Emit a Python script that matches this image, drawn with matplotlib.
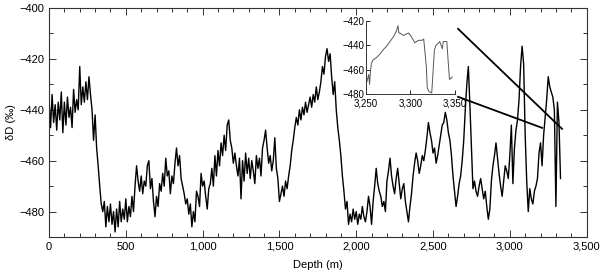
"""Profil isotopique deltaD en fonction de la profondeur, avec encart 3250-3350 m."""

import matplotlib

matplotlib.use("Agg")
import matplotlib.pyplot as plt
import numpy as np
from matplotlib.ticker import FuncFormatter, MultipleLocator

plt.rcParams["font.family"] = ["Liberation Sans", "DejaVu Sans"]

# profil principal : une valeur tous les 10 m, de 0 a 3330 m
depth_step = 10
dD_main = [
    -436, -447, -434, -445, -438, -448, -437, -444, -433, -449,
    -437, -446, -435, -443, -439, -447, -432, -441, -436, -440,
    -423, -438, -431, -437, -429, -436, -427, -434, -440, -452,
    -442, -455, -462, -470, -477, -480, -476, -486, -478, -484,
    -477, -485, -480, -488, -479, -486, -476, -484, -479, -483,
    -475, -484, -478, -482, -474, -480, -470, -462, -468, -472,
    -466, -473, -468, -470, -462, -460, -471, -467, -476, -482,
    -474, -478, -469, -472, -465, -470, -459, -466, -464, -473,
    -466, -469, -461, -455, -462, -458, -467, -470, -473, -477,
    -475, -481, -477, -486, -480, -484, -472, -474, -478, -465,
    -470, -468, -474, -479, -471, -469, -463, -470, -458, -466,
    -456, -462, -453, -458, -450, -456, -446, -444, -452, -455,
    -461, -457, -462, -466, -459, -475, -460, -468, -457, -465,
    -459, -467, -460, -464, -469, -458, -463, -459, -466, -455,
    -452, -448, -455, -461, -458, -464, -460, -451, -463, -467,
    -476, -473, -470, -474, -468, -471, -466, -462, -456, -452,
    -447, -443, -446, -440, -444, -439, -442, -437, -441, -438,
    -435, -439, -434, -437, -431, -436, -433, -429, -423, -426,
    -419, -416, -421, -418, -427, -434, -429, -440, -447, -452,
    -458, -466, -472, -479, -476, -485, -481, -484, -479, -483,
    -480, -485, -481, -483, -478, -482, -484, -480, -474, -478,
    -485, -476, -470, -463, -469, -472, -474, -478, -476, -480,
    -468, -464, -459, -466, -470, -473, -467, -463, -469, -475,
    -471, -469, -476, -480, -484, -478, -473, -466, -461, -457,
    -460, -465, -462, -458, -460, -456, -451, -445, -449, -452,
    -457, -455, -461, -458, -454, -450, -446, -445, -441, -444,
    -449, -452, -458, -466, -472, -478, -474, -469, -466, -460,
    -452, -440, -430, -423, -438, -455, -471, -468, -472, -474,
    -470, -467, -471, -475, -472, -478, -483, -479, -468, -462,
    -458, -453, -459, -465, -470, -474, -468, -462, -464, -467,
    -458, -446, -469, -455, -448, -444, -436, -423, -415, -422,
    -450, -468, -480, -471, -475, -477, -472, -470, -467, -457,
    -453, -462, -450, -443, -436, -427, -431, -433, -435, -440,
    -478, -437, -445, -467,
]
depth_main = np.arange(len(dD_main)) * depth_step

# encart : detail 3250-3350 m
inset_depth = [3251, 3253, 3254, 3255, 3256, 3258, 3262, 3266, 3269, 3273,
               3277, 3281, 3284, 3286, 3287, 3288, 3292, 3298, 3301, 3305,
               3309, 3313, 3315, 3318, 3319, 3321, 3324, 3325, 3327, 3329,
               3332, 3333, 3336, 3337, 3339, 3341, 3343, 3344, 3346, 3347]
inset_dD = [-470, -464, -472, -462, -455, -452, -450, -447, -444, -441,
            -437, -433, -429, -424, -430, -430, -432, -430, -433, -438,
            -436, -436, -435, -458, -475, -478, -479, -468, -444, -440,
            -438, -437, -443, -437, -437, -437, -458, -468, -467, -466]

# traits reliant l'encart a la fin du profil (coordonnees donnees)
link_start_depth = 2663
link_lines = [(-408.2, 3340, -447.5), (-434.9, 3210, -447.1)]

fig = plt.figure(figsize=(6, 2.75), dpi=100)
ax = fig.add_axes([0.0817, 0.138, 0.896, 0.833])
ax.plot(depth_main, dD_main, color="black", linewidth=1.0)
ax.set_xlim(0, 3500)
ax.set_ylim(-490, -400)
ax.xaxis.set_major_locator(MultipleLocator(500))
ax.xaxis.set_minor_locator(MultipleLocator(100))
ax.yaxis.set_major_locator(MultipleLocator(20))
ax.yaxis.set_minor_locator(MultipleLocator(10))
ax.xaxis.set_major_formatter(FuncFormatter(lambda v, _: f"{v:,.0f}"))
ax.tick_params(which="both", direction="in", top=True, right=True,
               labelsize=8, width=0.7, color="#333333")
ax.tick_params(which="major", length=5)
ax.tick_params(which="minor", length=3)
for sp in ax.spines.values():
    sp.set_linewidth(0.8)
    sp.set_color("#333333")
ax.set_xlabel("Depth (m)", fontsize=8, labelpad=6)
ax.set_ylabel("δD (‰)", fontsize=8, labelpad=2)

for y0, x1, y1 in link_lines:
    ax.plot([link_start_depth, x1], [y0, y1], color="black",
            linewidth=1.3, clip_on=False)

axin = fig.add_axes([0.61, 0.658, 0.148, 0.2665])
axin.plot(inset_depth, inset_dD, color="#555555", linewidth=0.7)
axin.set_xlim(3250, 3350)
axin.set_ylim(-480, -420)
axin.set_xticks([3250, 3300, 3350])
axin.set_yticks([-480, -460, -440, -420])
axin.xaxis.set_major_formatter(FuncFormatter(lambda v, _: f"{v:,.0f}"))
axin.spines["top"].set_visible(False)
axin.spines["right"].set_visible(False)
for side in ("left", "bottom"):
    axin.spines[side].set_linewidth(0.7)
    axin.spines[side].set_color("#333333")
axin.tick_params(direction="in", length=3, width=0.6, labelsize=7)
axin.tick_params(axis="x", pad=3)
axin.tick_params(axis="y", pad=1)
axin.patch.set_alpha(0)

fig.savefig("out.png", dpi=100)
